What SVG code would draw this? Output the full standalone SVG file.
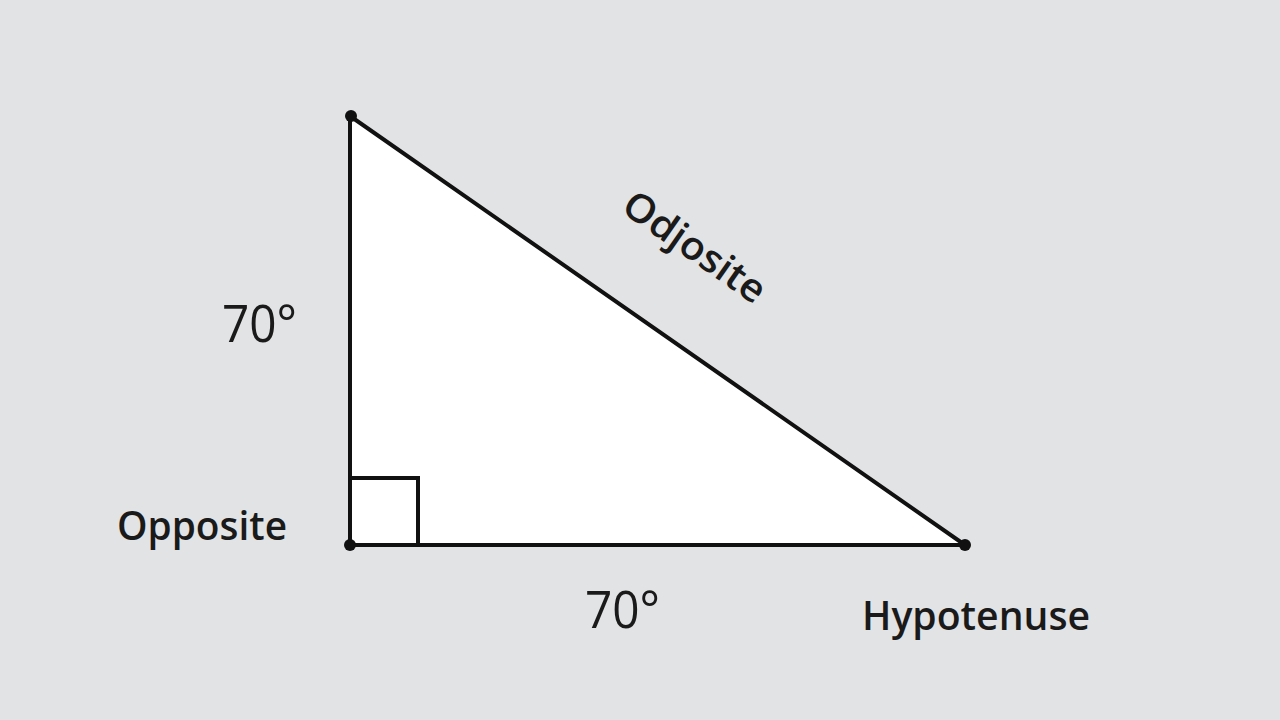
<svg xmlns="http://www.w3.org/2000/svg" width="1280" height="720" viewBox="0 0 1280 720">
<style>
.edge{stroke:#111;stroke-width:4;fill:none;stroke-linecap:round}
.lbl{font-family:"Open Sans","Noto Sans",sans-serif;font-weight:600;fill:#1a1a1a}
.ang{font-family:"Open Sans","Noto Sans",sans-serif;font-weight:400;fill:#1a1a1a}
.pt{fill:#111}
</style>
<rect width="1280" height="720" fill="#e2e3e5"/>
<g id="triangle">
<polygon points="350,116 350,545 965,545" fill="#ffffff"/>
</g>
<g id="connectors">
<line class="edge" x1="350" y1="116" x2="350" y2="545"/>
<line class="edge" x1="350" y1="545" x2="965" y2="545"/>
<line class="edge" x1="350" y1="116" x2="965" y2="545"/>
<polyline class="edge" points="352,478 418,478 418,545" stroke-linecap="butt"/>
</g>
<g id="vertexA"><circle class="pt" cx="351" cy="116" r="6"/></g>
<g id="vertexB"><circle class="pt" cx="350" cy="545" r="6"/></g>
<g id="vertexC"><circle class="pt" cx="965" cy="545" r="6"/></g>
<g id="label-odjosite"><text class="lbl" font-size="39" text-anchor="middle" textLength="165" lengthAdjust="spacingAndGlyphs" transform="translate(687,258) rotate(35)">Odjosite</text></g>
<g id="label-angle-left"><text class="ang" font-size="52" x="222" y="342" textLength="75" lengthAdjust="spacingAndGlyphs">70°</text></g>
<g id="label-opposite"><text class="lbl" font-size="39" x="117" y="540" textLength="170" lengthAdjust="spacingAndGlyphs">Opposite</text></g>
<g id="label-angle-bottom"><text class="ang" font-size="52" x="585" y="628" textLength="75" lengthAdjust="spacingAndGlyphs">70°</text></g>
<g id="label-hypotenuse"><text class="lbl" font-size="39" x="862" y="630" textLength="228" lengthAdjust="spacingAndGlyphs">Hypotenuse</text></g>
</svg>
